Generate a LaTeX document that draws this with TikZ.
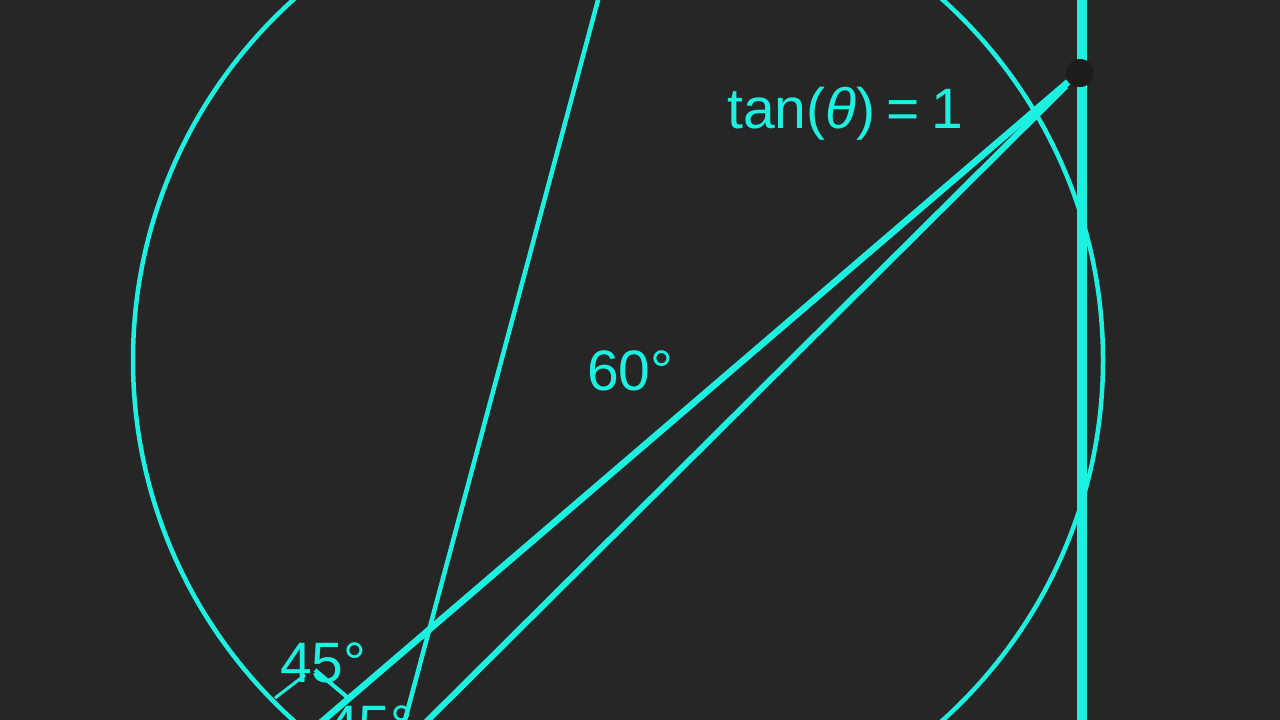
\documentclass[tikz,border=0pt]{standalone}
\usepackage{fontspec}
\setmainfont{Liberation Sans}
\definecolor{bg}{HTML}{262626}
\definecolor{cy}{HTML}{1CF0E0}
\definecolor{dotc}{HTML}{1C1C1C}
\begin{document}
\begin{tikzpicture}[x=1pt,y=-1pt,
  geo/.style={draw=cy, line width=4.5pt},
  lbl/.style={text=cy, font=\fontsize{57}{60}\selectfont, inner sep=0pt, anchor=base west}]
\fill[bg] (0,0) rectangle (1280,720);
\useasboundingbox (0,0) rectangle (1280,720);
\clip (0,0) rectangle (1280,720);
% circle
\coordinate (O) at (618,360);
\draw[geo] (O) circle[radius=485pt];
% vertical thick line
\coordinate (T) at (1082,-10);
\coordinate (Bv) at (1082,730);
\draw[geo, line width=10pt] (T) -- (Bv);
% thin chord
\coordinate (B1) at (600.7,-10);
\coordinate (B2) at (402.3,730);
\draw[geo] (B1) -- (B2);
% two long lines from the point
\coordinate (PA) at (1068,82);
\coordinate (EA) at (300.4,740);
\coordinate (PC) at (1066,86);
\coordinate (EC) at (408,740);
\draw[geo, line width=6.5pt] (PA) -- (EA);
\draw[geo, line width=6pt] (PC) -- (EC);
% right-angle marker
\coordinate (M1) at (275,698);
\coordinate (M2) at (305,675);
\coordinate (M3) at (315,670);
\coordinate (M4) at (347,697);
\draw[geo, line width=3pt] (M1) -- (M2);
\draw[geo, line width=4pt] (M3) -- (M4);
% labels
\node[lbl] (tanlbl) at (727,128) {tan(\textit{θ})\hspace{0.2em}=\hspace{0.2em}1};
\node[lbl] (l60) at (587,390) {60°};
\node[lbl] (l45a) at (280,682) {45°};
\node[lbl] (l45b) at (327,745) {45°};
% dark dot
\fill[dotc] (1080,73) circle[radius=14pt];
\end{tikzpicture}
\end{document}
